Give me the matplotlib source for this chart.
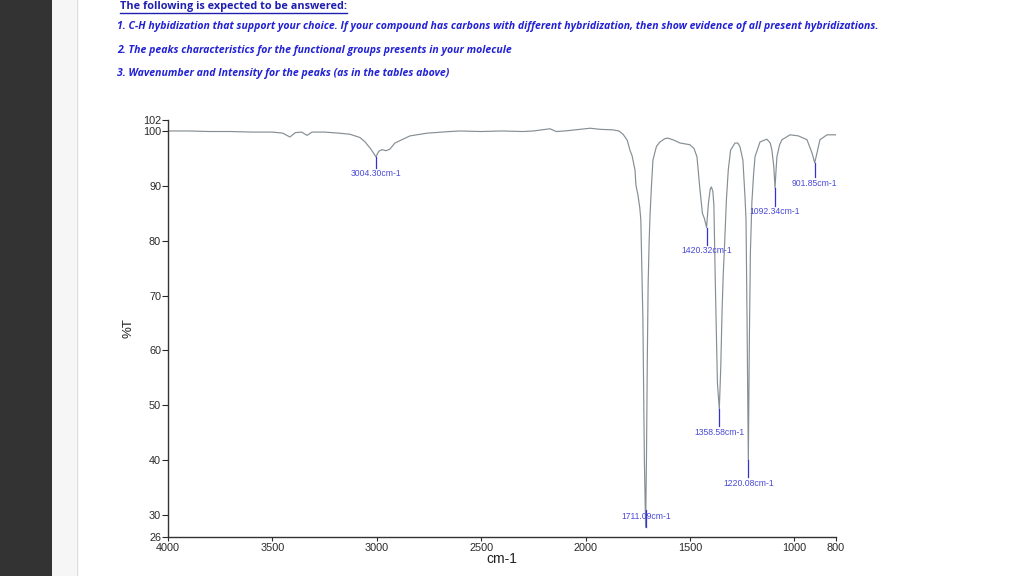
import matplotlib
matplotlib.use("Agg")
import matplotlib.pyplot as plt
from matplotlib.patches import Rectangle
from matplotlib.lines import Line2D

# ---- data ----
wavenumber = [4000, 3900, 3800, 3700, 3600, 3500, 3450, 3416, 3390, 3360, 3334, 3310,
              3250, 3180, 3128, 3080, 3056, 3030, 3004, 2990, 2975, 2955, 2937, 2913,
              2880, 2841, 2759, 2650, 2601, 2500, 2400, 2300, 2250, 2170, 2140, 2100,
              2050, 1978, 1930, 1868, 1840, 1820, 1800, 1787, 1777, 1763, 1758, 1749,
              1740, 1735, 1725, 1718, 1712, 1708, 1704, 1700, 1695, 1691, 1684, 1677,
              1660, 1643, 1620, 1605, 1575, 1547, 1500, 1480, 1466, 1453, 1440, 1430,
              1420, 1411, 1402, 1397, 1390, 1385, 1378, 1368, 1359, 1352, 1346, 1340,
              1334, 1325, 1316, 1305, 1284, 1270, 1260, 1246, 1236, 1231, 1226, 1220,
              1215, 1210, 1203, 1195, 1188, 1164, 1131, 1115, 1107, 1098, 1092, 1087,
              1083, 1070, 1059, 1020, 980, 939, 915, 902, 891, 877, 843, 800]
transmittance = [100.0, 100.0, 99.9, 99.9, 99.8, 99.8, 99.6, 98.9, 99.7, 99.8, 99.2, 99.8,
                 99.8, 99.6, 99.4, 98.8, 98.0, 96.8, 95.3, 96.3, 96.6, 96.4, 96.7, 97.8,
                 98.4, 99.1, 99.6, 99.9, 100.0, 99.9, 100.0, 99.9, 100.0, 100.4, 99.9, 100.0,
                 100.2, 100.5, 100.3, 100.2, 100.0, 99.4, 98.3, 96.5, 95.5, 92.9, 90.0, 88.4,
                 86.0, 83.8, 65.6, 40.0, 27.8, 40.0, 58.0, 72.0, 80.0, 84.5, 90.0, 94.7,
                 97.2, 98.0, 98.6, 98.7, 98.3, 97.8, 97.5, 96.8, 95.3, 89.8, 85.0, 84.0,
                 82.4, 86.9, 89.5, 89.8, 89.0, 86.5, 72.0, 54.0, 49.3, 57.0, 67.0, 74.0,
                 79.0, 87.5, 92.9, 96.5, 97.8, 97.8, 97.1, 94.7, 88.0, 83.8, 65.0, 40.0,
                 62.0, 78.0, 87.0, 92.0, 95.3, 98.0, 98.5, 97.8, 96.5, 93.5, 89.6, 93.0,
                 95.3, 97.5, 98.4, 99.3, 99.1, 98.4, 96.0, 94.2, 96.0, 98.4, 99.3, 99.3]

peak_wn = [3004.30, 1711.09, 1420.32, 1358.58, 1220.08, 1092.34, 901.85]
peak_T = [95.3, 27.8, 82.4, 49.3, 40.0, 89.6, 94.2]
peak_labels = ["3004.30cm-1", "1711.09cm-1", "1420.32cm-1", "1358.58cm-1",
               "1220.08cm-1", "1092.34cm-1", "901.85cm-1"]
label_T = [92.2, 29.8, 78.2, 45.1, 35.8, 85.3, 90.5]

x_ticks = [4000, 3500, 3000, 2500, 2000, 1500, 1000, 800]
y_ticks = [26, 30, 40, 50, 60, 70, 80, 90, 100, 102]

title_text = "The following is expected to be answered:"
question_lines = [
    "1. C-H hybidization that support your choice. If your compound has carbons with different hybridization, then show evidence of all present hybridizations.",
    "2. The peaks characteristics for the functional groups presents in your molecule",
    "3. Wavenumber and Intensity for the peaks (as in the tables above)",
]

# ---- figure ----
W, H = 1024, 576
fig = plt.figure(figsize=(W / 100, H / 100), dpi=100)
fig.patch.set_facecolor("white")

def fx(px):
    return px / W

def fy(py):
    return 1 - py / H

fig.add_artist(Rectangle((0, 0), fx(52), 1, transform=fig.transFigure,
                         facecolor="#333333", edgecolor="none", zorder=0))
fig.add_artist(Rectangle((fx(52), 0), fx(24), 1, transform=fig.transFigure,
                         facecolor="#f6f6f6", edgecolor="none", zorder=0))
fig.add_artist(Line2D([fx(76.5), fx(76.5)], [0, 1], transform=fig.transFigure,
                      color="#dddddd", lw=1, zorder=1))

# header text
title = fig.text(fx(120), fy(6.5), title_text, fontsize=7.8, fontweight="bold",
                 family=["Open Sans", "DejaVu Sans"], color="#1f1fb0",
                 ha="left", va="center")
line_y = [27, 50.5, 73.5]
for s, py in zip(question_lines, line_y):
    fig.text(fx(117), fy(py), s, fontsize=7.55, fontweight="bold", fontstyle="italic",
             family=["Open Sans", "DejaVu Sans"], color="#2222d4",
             ha="left", va="center")

# axes
ax = fig.add_axes([fx(168), fy(537), fx(836 - 168), fy(120) - fy(537)])
ax.plot(wavenumber, transmittance, color="#858e94", lw=0.85)
ax.set_xlim(4000, 800)
ax.set_ylim(26, 102)
ax.set_xticks(x_ticks)
ax.set_yticks(y_ticks)
ax.set_xticklabels([str(t) for t in x_ticks])
ax.set_yticklabels([str(t) for t in y_ticks])
for sp in ["top", "right"]:
    ax.spines[sp].set_visible(False)
for sp in ["left", "bottom"]:
    ax.spines[sp].set_color("#333333")
    ax.spines[sp].set_linewidth(1.0)
ax.tick_params(axis="both", labelsize=7.8, colors="#2a2a2a", width=0.8,
               labelfontfamily="Liberation Sans")
ax.tick_params(axis="y", length=4, pad=1)
ax.tick_params(axis="x", length=3, pad=1)
ax.set_xlabel("cm-1", fontsize=10, family="Liberation Sans", color="#222222")
ax.xaxis.set_label_coords(0.5, -0.036)
ax.set_ylabel("%T", fontsize=9.5, family="Liberation Sans", color="#222222")
ax.yaxis.set_label_coords(-0.05, 0.5)
ax.patch.set_alpha(0)

# peak annotations
for w, t, lab, lt in zip(peak_wn, peak_T, peak_labels, label_T):
    ax.plot([w, w], [t, lt + 1.1], color="#3333cc", lw=0.9)
    ax.text(w, lt, lab, fontsize=6.2, color="#4a4ad8", ha="center", va="center",
            family="Liberation Sans")

# underline title
fig.canvas.draw()
bb = title.get_window_extent()
fig.add_artist(Line2D([bb.x0 / W, bb.x1 / W], [fy(12.5), fy(12.5)],
                      transform=fig.transFigure, color="#1f1fb0", lw=1))

fig.savefig("out.png", dpi=100)
